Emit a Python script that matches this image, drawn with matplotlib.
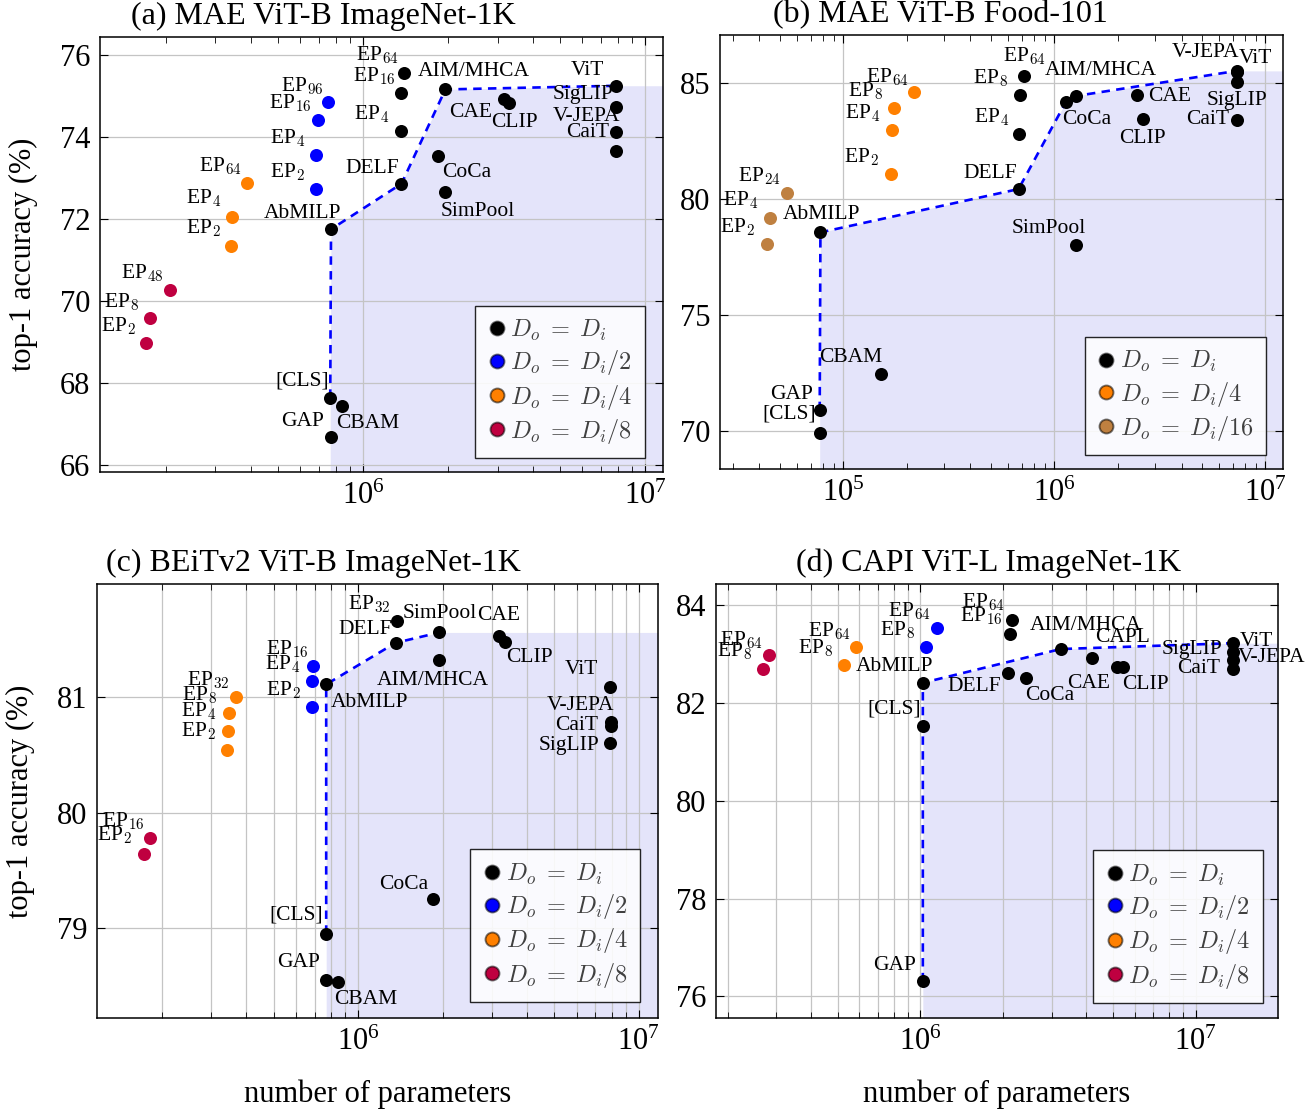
import re
import matplotlib
matplotlib.use("Agg")
import matplotlib.pyplot as plt
import matplotlib.ticker as ticker
from matplotlib.lines import Line2D

plt.rcParams["font.family"] = "serif"
plt.rcParams["font.serif"] = ["Liberation Serif", "DejaVu Serif"]
plt.rcParams["mathtext.fontset"] = "cm"

# (a) MAE ViT-B ImageNet-1K
A_NAMES = ["EP64", "EP16", "EP4", "DELF", "AbMILP", "AIM/MHCA", "CAE", "CLIP", "ViT", "SigLIP",
           "V-JEPA", "CaiT", "CoCa", "SimPool", "[CLS]", "CBAM", "GAP",
           "EP96", "EP16", "EP4", "EP2",
           "EP64", "EP4", "EP2",
           "EP48", "EP8", "EP2"]
A_PARAMS = [1.40e6, 1.37e6, 1.37e6, 1.37e6, 7.71e5, 1.96e6, 3.15e6, 3.29e6, 7.89e6, 7.89e6,
            7.89e6, 7.89e6, 1.85e6, 1.95e6, 7.66e5, 8.42e5, 7.68e5,
            7.54e5, 6.93e5, 6.82e5, 6.82e5,
            3.88e5, 3.44e5, 3.41e5,
            2.07e5, 1.76e5, 1.71e5]
A_ACC = [75.58, 75.08, 74.15, 72.87, 71.76, 75.17, 74.93, 74.83, 75.26, 74.73,
         74.12, 73.68, 73.55, 72.66, 67.65, 67.44, 66.70,
         74.86, 74.43, 73.57, 72.74,
         72.89, 72.07, 71.34,
         70.29, 69.59, 68.99]
A_GROUP = [1] * 17 + [2] * 4 + [4] * 3 + [8] * 3
A_FRONT = ["[CLS]", "AbMILP", "DELF", "AIM/MHCA", "ViT"]

# (b) MAE ViT-B Food-101
B_NAMES = ["EP64", "EP8", "EP4", "DELF", "AbMILP", "CoCa", "AIM/MHCA", "CAE", "CLIP", "V-JEPA",
           "ViT", "SigLIP", "CaiT", "SimPool", "CBAM", "GAP", "[CLS]",
           "EP64", "EP8", "EP4", "EP2",
           "EP24", "EP4", "EP2"]
B_PARAMS = [7.18e5, 6.84e5, 6.76e5, 6.76e5, 7.78e4, 1.13e6, 1.27e6, 2.47e6, 2.62e6, 7.31e6,
            7.31e6, 7.31e6, 7.31e6, 1.27e6, 1.51e5, 7.72e4, 7.72e4,
            2.16e5, 1.73e5, 1.69e5, 1.68e5,
            5.38e4, 4.47e4, 4.34e4]
B_ACC = [85.29, 84.47, 82.79, 80.43, 78.56, 84.17, 84.45, 84.50, 83.45, 85.53,
         85.50, 85.07, 83.39, 78.03, 72.47, 70.89, 69.90,
         84.63, 83.92, 82.99, 81.09,
         80.26, 79.18, 78.07]
B_GROUP = [1] * 17 + [4] * 4 + [16] * 3
B_FRONT = ["GAP", "AbMILP", "DELF", "CoCa", "AIM/MHCA", "V-JEPA"]

# (c) BEiTv2 ViT-B ImageNet-1K
C_NAMES = ["EP32", "DELF", "AbMILP", "SimPool", "AIM/MHCA", "CAE", "CLIP", "ViT", "V-JEPA", "CaiT",
           "SigLIP", "CoCa", "[CLS]", "GAP", "CBAM",
           "EP16", "EP4", "EP2",
           "EP32", "EP8", "EP4", "EP2",
           "EP16", "EP2"]
C_PARAMS = [1.38e6, 1.36e6, 7.70e5, 1.95e6, 1.95e6, 3.18e6, 3.34e6, 7.91e6, 7.95e6, 7.95e6,
            7.90e6, 1.85e6, 7.70e5, 7.68e5, 8.45e5,
            6.91e5, 6.85e5, 6.83e5,
            3.66e5, 3.47e5, 3.43e5, 3.42e5,
            1.82e5, 1.73e5]
C_ACC = [81.66, 81.47, 81.11, 81.56, 81.32, 81.53, 81.48, 81.09, 80.78, 80.75,
         80.60, 79.25, 78.95, 78.55, 78.53,
         81.27, 81.14, 80.91,
         81.00, 80.86, 80.71, 80.54,
         79.78, 79.64]
C_GROUP = [1] * 15 + [2] * 3 + [4] * 4 + [8] * 2
C_FRONT = ["[CLS]", "AbMILP", "DELF", "SimPool"]

# (d) CAPI ViT-L ImageNet-1K
D_NAMES = ["EP64", "EP16", "AIM/MHCA", "CAPL", "CAE", "CLIP", "DELF", "CoCa", "ViT", "SigLIP",
           "V-JEPA", "CaiT", "AbMILP", "[CLS]", "GAP",
           "EP64", "EP8",
           "EP64", "EP8",
           "EP64", "EP8"]
D_PARAMS = [2.15e6, 2.11e6, 3.23e6, 4.21e6, 5.19e6, 5.45e6, 2.08e6, 2.41e6, 1.36e7, 1.36e7,
            1.36e7, 1.36e7, 1.02e6, 1.02e6, 1.02e6,
            1.15e6, 1.05e6,
            5.84e5, 5.26e5,
            2.81e5, 2.68e5]
D_ACC = [83.69, 83.40, 83.10, 82.92, 82.73, 82.73, 82.61, 82.51, 83.22, 83.04,
         82.88, 82.70, 82.41, 81.53, 76.31,
         83.53, 83.14,
         83.14, 82.77,
         82.98, 82.69]
D_GROUP = [1] * 15 + [2] * 2 + [4] * 2 + [8] * 2
D_FRONT = ["GAP", "AbMILP", "AIM/MHCA", "ViT"]

# Label offsets in pixels (dx, dy, horizontal alignment)
A_LABEL_POS = [(-5, 17, "right"), (-6, 17, "right"), (-12, 17, "right"), (-2, 15, "right"),
               (10, 16, "right"), (28, 18, "center"), (-11, -13, "right"), (6, -19, "center"),
               (-12, 15, "right"), (-3, 13, "right"), (4, 16, "right"), (-7, 18, "right"),
               (4, -17, "left"), (-4, -19, "left"), (-1, 17, "right"), (-6, -17, "left"),
               (-7, 15, "right"),
               (-5, 16, "right"), (-6, 17, "right"), (-11, 17, "right"), (-11, 17, "right"),
               (-5, 17, "right"), (-11, 18, "right"), (-10, 18, "right"),
               (-6, 16, "right"), (-11, 16, "right"), (-11, 17, "right")]
B_LABEL_POS = [(0, 20, "center"), (-12, 17, "right"), (-9, 17, "right"), (-2, 16, "right"),
               (1, 18, "center"), (-4, -17, "left"), (24, 25, "center"), (11, -2, "left"),
               (0, -19, "center"), (2, 18, "right"), (2, 13, "left"), (0, -19, "center"),
               (-8, 1, "right"), (-28, 16, "center"), (1, 16, "right"), (-7, 16, "right"),
               (-4, 19, "right"),
               (-5, 15, "right"), (-11, 17, "right"), (-11, 17, "right"), (-12, 17, "right"),
               (-6, 17, "right"), (-11, 18, "right"), (-12, 17, "right")]
C_LABEL_POS = [(-7, 17, "right"), (-3, 13, "right"), (5, -18, "left"), (0, 19, "center"),
               (-7, -20, "center"), (-1, 20, "center"), (1, -16, "left"), (-12, 17, "right"),
               (3, 17, "right"), (-13, 0, "right"), (-11, -2, "right"), (-5, 15, "right"),
               (-3, 19, "right"), (-6, 17, "right"), (-3, -17, "left"),
               (-5, 17, "right"), (-12, 17, "right"), (-11, 17, "right"),
               (-6, 17, "right"), (-12, 18, "right"), (-11, 19, "right"), (-11, 19, "right"),
               (-6, 17, "right"), (-12, 19, "right")]
D_LABEL_POS = [(-7, 18, "right"), (-7, 18, "right"), (25, 24, "center"), (3, 20, "left"),
               (-7, -16, "right"), (-1, -17, "left"), (-7, -13, "right"), (-1, -18, "left"),
               (7, 2, "left"), (-10, 2, "right"), (5, 2, "left"), (-12, 0, "right"),
               (10, 16, "right"), (-2, 17, "right"), (-7, 16, "right"),
               (-6, 17, "right"), (-11, 17, "right"),
               (-5, 16, "right"), (-11, 17, "right"),
               (-6, 15, "right"), (-11, 18, "right")]

GROUP_COLOR = {1: "black", 2: "#0000ff", 4: "#ff8000", 8: "#bf0040", 16: "#bf8040"}
GROUP_LABEL = {1: r"$D_o\;=\;D_i$", 2: r"$D_o\;=\;D_i/2$", 4: r"$D_o\;=\;D_i/4$",
               8: r"$D_o\;=\;D_i/8$", 16: r"$D_o\;=\;D_i/16$"}


def fmt_name(name):
    # EP64 -> EP with subscript 64
    m = re.match(r"^EP(\d+)$", name)
    if m:
        return "EP$_{%s}$" % m.group(1)
    return name


def draw_panel(ax, title, title_x, names, params, acc, groups, label_pos, front,
               xlim, ylim, yticks, legend_corner, minor_grid):
    ax.set_xscale("log")
    ax.set_xlim(*xlim)
    ax.set_ylim(*ylim)
    ax.set_yticks(yticks)
    ax.xaxis.set_major_locator(ticker.LogLocator(base=10))
    ax.xaxis.set_minor_locator(ticker.LogLocator(base=10, subs=range(2, 10)))
    ax.xaxis.set_minor_formatter(ticker.NullFormatter())

    # Grid
    ax.set_axisbelow(True)
    ax.grid(True, which="major", color="#c4c4c4", lw=0.9)
    if minor_grid:
        ax.grid(True, which="minor", axis="x", color="#c4c4c4", lw=0.9)

    ax.tick_params(which="both", direction="in", top=True, right=True, labelsize=22)
    ax.tick_params(which="major", length=6, pad=7)
    ax.tick_params(which="minor", length=4)
    for s in ax.spines.values():
        s.set_linewidth(1.1)

    # Pareto front and shaded area
    fx = [params[names.index(n)] for n in front]
    fy = [acc[names.index(n)] for n in front]
    ax.fill_between(fx + [xlim[1]], fy + [fy[-1]], ylim[0], color="#e4e4fa", lw=0, zorder=0)
    ax.plot(fx, fy, ls=(0, (3.2, 2.4)), color="#0000ff", lw=1.9, zorder=2)

    # Points
    used = []
    for g in groups:
        if g not in used:
            used.append(g)
    for g in used:
        xs = [p for p, gg in zip(params, groups) if gg == g]
        ys = [a for a, gg in zip(acc, groups) if gg == g]
        ax.scatter(xs, ys, s=88, color=GROUP_COLOR[g], lw=0, zorder=3)

    # Labels
    for name, x, y, (dx, dy, ha) in zip(names, params, acc, label_pos):
        ax.annotate(fmt_name(name), (x, y), xytext=(dx, dy), textcoords="offset pixels",
                    ha=ha, va="center", fontsize=15.5, zorder=4)

    # Legend
    handles = [Line2D([], [], ls="", marker="o", ms=10, mfc=GROUP_COLOR[g],
                      mec=(0, 0, 0, 0.55), mew=1.4) for g in used]
    ax.legend(handles, [GROUP_LABEL[g] for g in used], loc="lower right",
              bbox_to_anchor=legend_corner, borderaxespad=0, fontsize=17.5,
              labelcolor="#404040", fancybox=False, edgecolor="black", framealpha=0.85,
              borderpad=0.5, labelspacing=0.22, handletextpad=0.15, handlelength=0.8)

    ax.set_title(title, fontsize=23, pad=9, x=title_x)


fig = plt.figure(figsize=(13.05, 11.10), dpi=100)
ax_a = fig.add_axes([0.0766, 0.5748, 0.4314, 0.3919])
ax_b = fig.add_axes([0.5517, 0.5775, 0.4314, 0.3910])
ax_c = fig.add_axes([0.0743, 0.0829, 0.4299, 0.3910])
ax_d = fig.add_axes([0.5487, 0.0829, 0.4307, 0.3910])

draw_panel(ax_a, "(a) MAE ViT-B ImageNet-1K", 0.396, A_NAMES, A_PARAMS, A_ACC, A_GROUP,
           A_LABEL_POS, A_FRONT, (1.17e5, 1.157e7), (65.84, 76.45), [66, 68, 70, 72, 74, 76],
           (0.968, 0.032), False)
draw_panel(ax_b, "(b) MAE ViT-B Food-101", 0.391, B_NAMES, B_PARAMS, B_ACC, B_GROUP,
           B_LABEL_POS, B_FRONT, (2.6e4, 1.21e7), (68.35, 87.08), [70, 75, 80, 85],
           (0.970, 0.032), False)
draw_panel(ax_c, "(c) BEiTv2 ViT-B ImageNet-1K", 0.385, C_NAMES, C_PARAMS, C_ACC, C_GROUP,
           C_LABEL_POS, C_FRONT, (1.175e5, 1.17e7), (78.22, 81.98), [79, 80, 81],
           (0.968, 0.037), True)
draw_panel(ax_d, "(d) CAPI ViT-L ImageNet-1K", 0.484, D_NAMES, D_PARAMS, D_ACC, D_GROUP,
           D_LABEL_POS, D_FRONT, (1.81e5, 1.99e7), (75.56, 84.43), [76, 78, 80, 82, 84],
           (0.973, 0.035), True)

ax_a.set_ylabel("top-1 accuracy (%)", fontsize=22, labelpad=16)
ax_c.set_ylabel("top-1 accuracy (%)", fontsize=22, labelpad=16)
ax_c.set_xlabel("number of parameters", fontsize=22, labelpad=16)
ax_d.set_xlabel("number of parameters", fontsize=22, labelpad=16)

fig.savefig("out.png", dpi=100)
